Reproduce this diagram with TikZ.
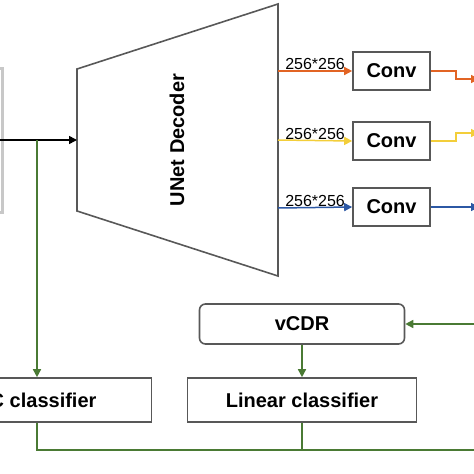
\documentclass[tikz,border=0pt]{standalone}
\usepackage{fontspec}
\setmainfont{Liberation Sans}
\usetikzlibrary{arrows.meta,positioning,calc}

\definecolor{boxgray}{RGB}{88,88,88}
\definecolor{encgray}{RGB}{200,200,200}
\definecolor{lgreen}{RGB}{74,122,52}
\definecolor{lorange}{RGB}{226,100,36}
\definecolor{lyellow}{RGB}{243,206,58}
\definecolor{lblue}{RGB}{44,88,164}

\begin{document}
\begin{tikzpicture}[
  x=1pt, y=-1pt,
  >={Triangle[length=8pt, width=8pt]},
  font=\fontsize{20}{24}\selectfont,
  box/.style={rectangle, draw=boxgray, line width=1.6pt, fill=white,
              inner sep=0pt, font=\bfseries\fontsize{20}{24}\selectfont},
  convbox/.style={box, minimum width=77pt, minimum height=38pt},
  clsbox/.style={box, minimum width=229pt, minimum height=44pt},
  cdrbox/.style={box, rounded corners=6pt, minimum width=205pt, minimum height=40pt},
  encbox/.style={rectangle, draw=encgray, line width=3pt, minimum width=84pt,
                 minimum height=144pt},
  feat/.style={->, line width=1.5pt},
  glink/.style={->, line width=1.5pt, lgreen},
  gline/.style={line width=1.5pt, lgreen},
  sizelab/.style={font=\fontsize{16}{18}\selectfont, inner sep=0.5pt}
]
\useasboundingbox (0,0) rectangle (474,474);
\clip (0,0) rectangle (474,474);

% ---------- Encoder (cut off) ----------
\node[encbox] (enc) at (-40,140) {};

% ---------- Decoder ----------
\draw[boxgray, line width=1.6pt, line join=miter]
  (77,69) -- (278,4) -- (278,276) -- (77,211) -- cycle;
\node[font=\bfseries\fontsize{20}{24}\selectfont, rotate=90] (dec) at (177,140) {UNet Decoder};
\coordinate (decin) at (77,140);
\coordinate (encout) at (0,140);
\coordinate (split) at (37,140);
\foreach \i/\y in {1/71,2/140,3/208}
  \coordinate (out\i) at (278,\y);

% ---------- Conv heads ----------
\foreach \i/\y in {1/71,2/141,3/207}
  \node[convbox] (conv\i) at (391.5,\y) {Conv};
\coordinate (end1) at (479,79);
\coordinate (end2) at (479,133);
\coordinate (end3) at (479,207);

% ---------- Classifiers ----------
\node[cdrbox] (vcdr) at (302,324) {vCDR};
\node[clsbox] (lin) at (302,400) {Linear classifier};
\node[clsbox] (fc) at (37,400) {FC classifier};
\coordinate (vin) at (476,324);
\coordinate (bus) at (476,450);

% ---------- Feature paths ----------
\draw[feat, black] (encout) -- (decin);
\draw[feat, lorange] (out1) -- node[above, sizelab, black] {256*256} (conv1.west);
\draw[feat, lyellow] (out2) -- node[above, sizelab, black] {256*256} (conv2.west);
\draw[feat, lblue] (out3) -- node[above, sizelab, black] {256*256} (conv3.west);
\draw[feat, lorange] (conv1.east) -- ++(25,0) |- (end1);
\draw[feat, lyellow] (conv2.east) -- ++(25,0) |- (end2);
\draw[feat, lblue] (conv3.east) -- (end3);

% ---------- Classification paths ----------
\draw[glink] (split) -- (fc.north);
\draw[glink] (vin) -- (vcdr.east);
\draw[glink] (vcdr) -- (lin);
\draw[gline] (fc.south) |- (bus);
\draw[gline] (lin.south) -- (lin.south |- bus);

\end{tikzpicture}
\end{document}
